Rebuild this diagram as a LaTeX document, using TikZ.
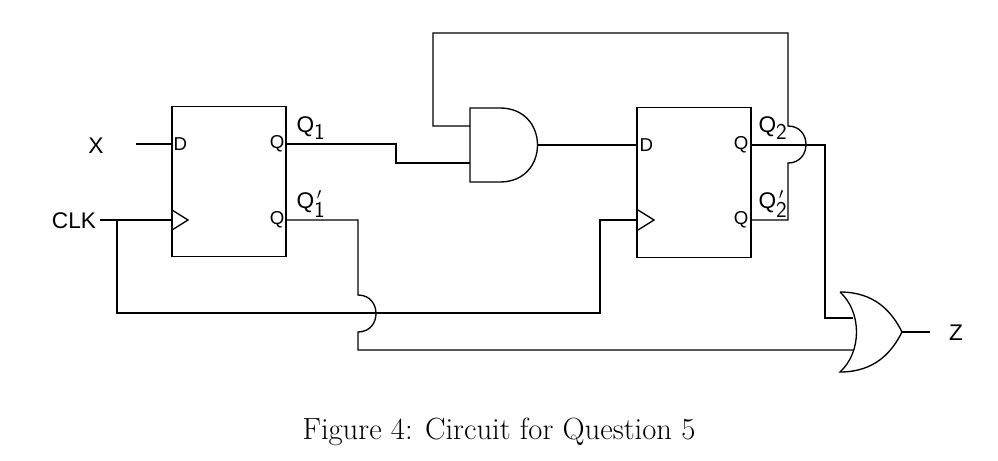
\documentclass[tikz,border=0pt]{standalone}
\usepackage{fontspec}
\newfontfamily\lab{Liberation Sans}
\begin{document}
\begin{tikzpicture}[x=0.75pt,y=-0.75pt,
  w/.style={line width=1pt,line join=miter},
  ff/.style={draw,line width=1pt,minimum width=114*0.75pt,minimum height=150*0.75pt,inner sep=0},
  pin/.style={font=\lab\fontsize{14}{14}\selectfont,inner sep=1pt},
  sig/.style={font=\lab\fontsize{17}{17}\selectfont,inner sep=1pt}]
\useasboundingbox (0,0) rectangle (998,460);
% flip-flops
\node[ff] (f1) at (229,181.5) {};
\node[ff] (f2) at (694,182.5) {};
\coordinate (d1) at (172,144); \coordinate (c1) at (172,220);
\coordinate (q1) at (286,144); \coordinate (nq1) at (286,220);
\coordinate (d2) at (638,145); \coordinate (c2) at (638,220);
\coordinate (q2) at (750,145); \coordinate (nq2) at (750,220);
\node[pin,anchor=west] at (d1) {D};
\node[pin,anchor=east] at (q1) {Q};
\node[pin,anchor=east] at (nq1) {Q};
\node[pin,anchor=west] at (d2) {D};
\node[pin,anchor=east] at (q2) {Q};
\node[pin,anchor=east] at (nq2) {Q};
\draw[w] (172,210) -- (188,220) -- (172,230);
\draw[w] (638,210) -- (654,220) -- (638,230);
% AND gate
\draw[w] (470,108) -- (500,108) .. controls (550,108) and (550,182) .. (500,182) -- (470,182) -- cycle;
\coordinate (a1) at (470,126); \coordinate (a2) at (470,163); \coordinate (ao) at (537,145);
% OR gate
\draw[w] (840,292) .. controls (862,312) and (862,352) .. (840,372)
  .. controls (875,372) and (892,352) .. (902,332)
  .. controls (892,312) and (875,292) .. (840,292);
\coordinate (o1) at (853,318); \coordinate (o2) at (853,350); \coordinate (oo) at (902,332);
% inputs
\node[sig] (X) at (96,146) {X};
\node[sig] (CLK) at (74,221) {CLK};
\draw[w] (136,144) -- (d1);
\draw[w] (100,220) -- (c1);
\draw[w] (117,220) -- (117,313) -- (600,313) -- (600,220) -- (c2);
% Q1 to AND
\draw[w] (q1) -- (396,144) -- (396,163) -- (a2);
\draw[w] (ao) -- (d2);
% Q1' with hop
\draw[w] (nq1) -- (358,220) -- (358,295) .. controls (382,295) and (382,332) .. (358,332) -- (358,350) -- (o2);
% feedback Q2' with hop
\draw[w] (nq2) -- (788,220) -- (788,163) .. controls (812,163) and (812,126) .. (788,126) -- (788,33) -- (433,33) -- (433,126) -- (a1);
% Q2 to OR
\draw[w] (q2) -- (825,145) -- (825,318) -- (o1);
\draw[w] (oo) -- (930,332);
\node[sig] (Z) at (956,333) {Z};
% labels
\node[sig] at (311,128) {Q$_{\textsf{1}}$};
\node[sig] at (311,204) {Q$^{\,\prime}_{\textsf{1}}$};
\node[sig] at (773,128) {Q$_{\textsf{2}}$};
\node[sig] at (773,204) {Q$^{\,\prime}_{\textsf{2}}$};
\node[font=\fontsize{23}{23}\selectfont] (cap) at (499,432) {Figure 4: Circuit for Question 5};
\end{tikzpicture}
\end{document}
